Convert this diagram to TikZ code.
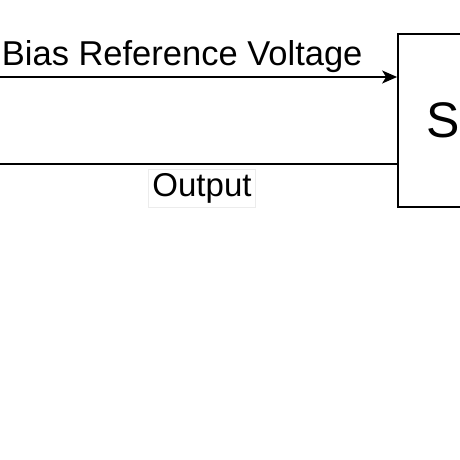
\documentclass[tikz,border=0pt]{standalone}
\usepackage{fontspec}
\setmainfont{Liberation Sans}
\usepackage{color}
\definecolor{myframegray}{RGB}{236,236,236}
\usetikzlibrary{arrows.meta,positioning,calc}

\begin{document}
\begin{tikzpicture}[
  x=1pt, y=-1pt,
  line width=1.8pt,
  mybox/.style={
    draw,
    rectangle,
    minimum width=90pt,
    minimum height=173pt,
    font=\fontsize{50}{56}\selectfont
    },
  myarrow/.style={-{Stealth[length=15pt,width=13pt,inset=4pt]}},
  mylabel/.style={
    inner sep=0pt,
    font=\fontsize{34.5}{40}\selectfont
    },
  mytag/.style={
    fill=white,
    draw=myframegray,
    line width=0.6pt,
    inner xsep=4pt,
    inner ysep=4pt,
    font=\fontsize{33}{38}\selectfont
    }
]
\useasboundingbox (0,0) rectangle (460,460);
\clip (0,0) rectangle (460,460);

\node[mybox] (sys) at (443,120.5) {S};

\coordinate (biasin) at (-5,77);
\coordinate (outend) at (-5,164);

\draw[myarrow] (biasin) -- (biasin -| sys.west);
\draw (outend -| sys.west) -- (outend);

\node[mylabel, anchor=base west] (biaslabel) at (1,65) {Bias Reference Voltage};
\node[mytag] (outlabel) at (202,188) {Output};
\end{tikzpicture}
\end{document}
